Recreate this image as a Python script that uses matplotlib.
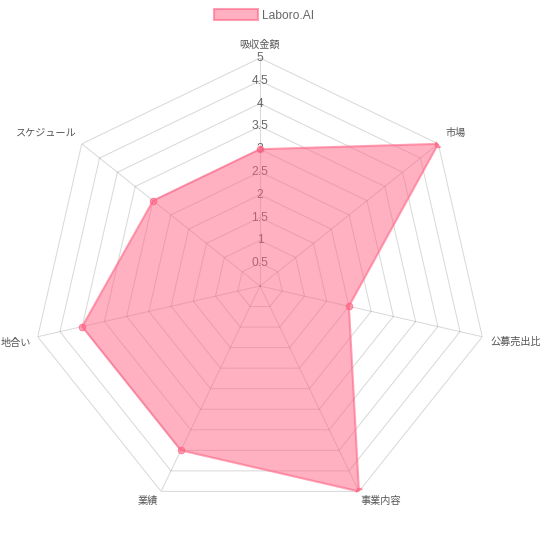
import numpy as np
import matplotlib
matplotlib.use("Agg")
import matplotlib.pyplot as plt
from matplotlib.patches import Patch

# ---- data ----
categories = ["吸収金額", "市場", "公募売出比", "事業内容", "業績", "地合い", "スケジュール"]
values = [3, 5, 2, 5, 4, 4, 3]
series_name = "Laboro.AI"
tick_values = [0.5, 1, 1.5, 2, 2.5, 3, 3.5, 4, 4.5, 5]
tick_labels = ["0.5", "1", "1.5", "2", "2.5", "3", "3.5", "4", "4.5", "5"]
r_max = 5

plt.rcParams['font.family'] = ['Liberation Sans', 'Noto Sans CJK JP', 'DejaVu Sans']

W = H = 540
fig = plt.figure(figsize=(W / 100, H / 100), dpi=100)
cx, cy, R = 260, 286, 228
ax = fig.add_axes([(cx - R) / W, (H - cy - R) / H, 2 * R / W, 2 * R / H], projection='polar')
ax.set_theta_zero_location('N')
ax.set_theta_direction(-1)
ax.set_ylim(0, r_max)
ax.set_axis_off()

n = len(categories)
theta = np.arange(n) * 2 * np.pi / n
theta_c = np.append(theta, theta[0])

grid_col = (0, 0, 0, 0.15)
# grid polygons
for tv in tick_values:
    ax.plot(theta_c, [tv] * (n + 1), color=grid_col, lw=0.75, zorder=1)
# angle lines
for t in theta:
    ax.plot([t, t], [0, r_max], color=grid_col, lw=0.75, zorder=1)

# tick labels
for tv, tl in zip(tick_values, tick_labels):
    ax.text(0, tv, tl, ha='center', va='center', fontsize=8.64, color='#666666',
            family=['Liberation Sans', 'DejaVu Sans'], zorder=2)

# data
vals_c = values + values[:1]
ax.fill(theta_c, vals_c, color=(1, 99 / 255, 132 / 255, 0.5), lw=0, zorder=3)
ax.plot(theta_c, vals_c, color=(1, 99 / 255, 132 / 255, 0.6), lw=1.5, zorder=4)
ax.scatter(theta, values, s=22, color=(1, 99 / 255, 132 / 255, 0.6),
           edgecolors=(1, 99 / 255, 132 / 255, 0.8), linewidths=0.7, zorder=5)

# point labels (offsets in pixels)
label_style = [
    ((0, 13), 'center', 'center'),
    ((7, 11), 'left', 'center'),
    ((8, -5), 'left', 'center'),
    ((2, -10), 'left', 'center'),
    ((-3, -10), 'right', 'center'),
    ((-7, -6), 'right', 'center'),
    ((-5, 11), 'right', 'center'),
]
for t, lab, (off, ha, va) in zip(theta, categories, label_style):
    ax.annotate(lab, xy=(t, r_max), xytext=off, textcoords='offset pixels',
                ha=ha, va=va, fontsize=7.3, color='#555555',
                family=['Noto Sans CJK JP', 'DejaVu Sans'], annotation_clip=False)

# legend
handle = Patch(facecolor=(1, 99 / 255, 132 / 255, 0.5),
               edgecolor=(1, 99 / 255, 132 / 255, 0.6), linewidth=1.5)
fig.legend([handle], [series_name], loc='center', bbox_to_anchor=(264 / W, 1 - 15.5 / H),
           frameon=False, fontsize=8.64, handlelength=3.67, handleheight=1.05,
           handletextpad=0.4, borderpad=0, labelcolor='#666666')

fig.savefig("out.png", dpi=100)
